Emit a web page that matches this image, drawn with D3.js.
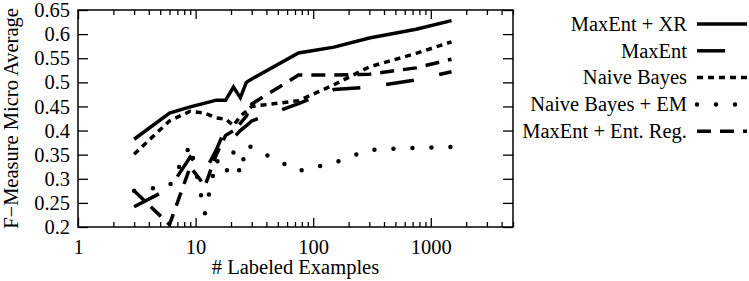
<!DOCTYPE html>
<html>
<head>
<meta charset="utf-8">
<script src="https://cdn.jsdelivr.net/npm/d3@7"></script>
<style>
  body { margin: 0; background: #fff; }
</style>
</head>
<body>
<script>
// DATA
const labeledExamples = [3, 6, 9, 12, 15, 18, 21, 24, 27, 30, 75, 150, 300, 750, 1500];
const maxEntXR     = [0.382, 0.436, 0.449, 0.457, 0.463, 0.463, 0.49, 0.468, 0.50, 0.507, 0.561, 0.573, 0.592, 0.61, 0.628];
const maxEnt       = [0.242, 0.28, 0.345, 0.315, 0.36, 0.405, 0.385, 0.40, 0.41, 0.42, 0.456, 0.485, 0.49, 0.505, 0.522];
const naiveBayes   = [0.351, 0.42, 0.44, 0.436, 0.426, 0.424, 0.41, 0.43, 0.44, 0.45, 0.462, 0.495, 0.532, 0.56, 0.584];
const naiveBayesEM = [0.275, 0.285, 0.37, 0.228, 0.34, 0.31, 0.355, 0.31, 0.37, 0.365, 0.316, 0.333, 0.36, 0.364, 0.366];
const maxEntEntReg = [0.275, 0.205, 0.325, 0.285, 0.35, 0.39, 0.40, 0.415, 0.43, 0.455, 0.515, 0.515, 0.517, 0.53, 0.548];
const seriesNames  = ['MaxEnt + XR', 'MaxEnt', 'Naive Bayes', 'Naive Bayes + EM', 'MaxEnt + Ent. Reg.'];
const seriesValues = [maxEntXR, maxEnt, naiveBayes, naiveBayesEM, maxEntEntReg];
const xTickValues  = [1, 10, 100, 1000];
const yTickValues  = [0.2, 0.25, 0.3, 0.35, 0.4, 0.45, 0.5, 0.55, 0.6, 0.65];

// DEFS
const width = 749;
const height = 281;
const plot = {left: 78, top: 10, right: 513, bottom: 227};
const fontFamily = '"Liberation Serif"';
const fontSize = 20.5;
const dashes = ['none', '28,26', '6,5', '0,19', '14,9'];
const caps = ['butt', 'butt', 'butt', 'round', 'butt'];
const widths = [3.5, 3.5, 3.5, 4.5, 3.5];

const svg = d3.select('body').append('svg').attr('width', width).attr('height', height);

// SCALES
const x = d3.scaleLog().domain([1, 5000]).range([plot.left, plot.right]);
const y = d3.scaleLinear().domain([0.2, 0.65]).range([plot.bottom, plot.top]);

svg.append('clipPath').attr('id', 'plotClip')
  .append('rect')
    .attr('x', plot.left).attr('y', plot.top)
    .attr('width', plot.right - plot.left).attr('height', plot.bottom - plot.top);

// minor ticks for log axis
const minorTicks = [];
for (let p = 0; p < 4; p++) {
  for (let m = 2; m <= 9; m++) {
    const v = m * Math.pow(10, p);
    if (v <= 5000) minorTicks.push(v);
  }
}

// AXES
const xAxisBottom = d3.axisBottom(x).tickValues(xTickValues).tickFormat(d3.format('d')).tickSize(-9).tickPadding(12);
const xAxisTop = d3.axisTop(x).tickValues(xTickValues).tickFormat('').tickSize(-9);
const xMinorBottom = d3.axisBottom(x).tickValues(minorTicks).tickFormat('').tickSize(-5);
const xMinorTop = d3.axisTop(x).tickValues(minorTicks).tickFormat('').tickSize(-5);
const yAxisLeft = d3.axisLeft(y).tickValues(yTickValues).tickFormat(d => String(+d.toFixed(2))).tickSize(-10).tickPadding(8);
const yAxisRight = d3.axisRight(y).tickValues(yTickValues).tickFormat('').tickSize(-10);

const axes = [
  [xAxisBottom, `translate(0,${plot.bottom})`],
  [xMinorBottom, `translate(0,${plot.bottom})`],
  [xAxisTop, `translate(0,${plot.top})`],
  [xMinorTop, `translate(0,${plot.top})`],
  [yAxisLeft, `translate(${plot.left},0)`],
  [yAxisRight, `translate(${plot.right},0)`]
];
axes.forEach(([ax, tr]) => {
  const g = svg.append('g').attr('transform', tr).call(ax);
  g.select('.domain').remove();
  g.selectAll('line').attr('stroke', '#000').attr('stroke-width', 1.3);
  g.selectAll('text')
    .attr('fill', '#000')
    .attr('font-family', fontFamily)
    .attr('font-size', fontSize);
});

// frame
svg.append('rect')
  .attr('x', plot.left).attr('y', plot.top)
  .attr('width', plot.right - plot.left).attr('height', plot.bottom - plot.top)
  .attr('fill', 'none').attr('stroke', '#000').attr('stroke-width', 1.5);

// LINES
const lineGen = d3.line()
  .x((d, i) => x(labeledExamples[i]))
  .y(d => y(d));

const lines = svg.append('g').attr('clip-path', 'url(#plotClip)');
seriesValues.forEach((vals, k) => {
  lines.append('path')
    .attr('d', lineGen(vals))
    .attr('fill', 'none')
    .attr('stroke', '#000')
    .attr('stroke-width', widths[k])
    .attr('stroke-linecap', caps[k])
    .attr('stroke-linejoin', 'miter')
    .attr('stroke-dasharray', dashes[k]);
});

// LEGEND
const legend = svg.append('g');
seriesNames.forEach((name, k) => {
  const ly = 24 + k * 26.8;
  legend.append('text')
    .attr('x', 687).attr('y', ly).attr('dy', '0.33em')
    .attr('text-anchor', 'end')
    .attr('font-family', fontFamily)
    .attr('font-size', fontSize)
    .text(name);
  legend.append('line')
    .attr('x1', 697).attr('x2', 747).attr('y1', ly).attr('y2', ly)
    .attr('stroke', '#000')
    .attr('stroke-width', widths[k])
    .attr('stroke-linecap', caps[k])
    .attr('stroke-dasharray', dashes[k]);
});

// AXIS TITLES
svg.append('text')
  .attr('x', (plot.left + plot.right) / 2).attr('y', 274)
  .attr('text-anchor', 'middle')
  .attr('font-family', fontFamily)
  .attr('font-size', fontSize)
  .text('# Labeled Examples');

svg.append('text')
  .attr('transform', `translate(18, ${(plot.top + plot.bottom) / 2}) rotate(-90)`)
  .attr('text-anchor', 'middle')
  .attr('font-family', fontFamily)
  .attr('font-size', fontSize)
  .text('F\u2212Measure Micro Average');
</script>
</body>
</html>
